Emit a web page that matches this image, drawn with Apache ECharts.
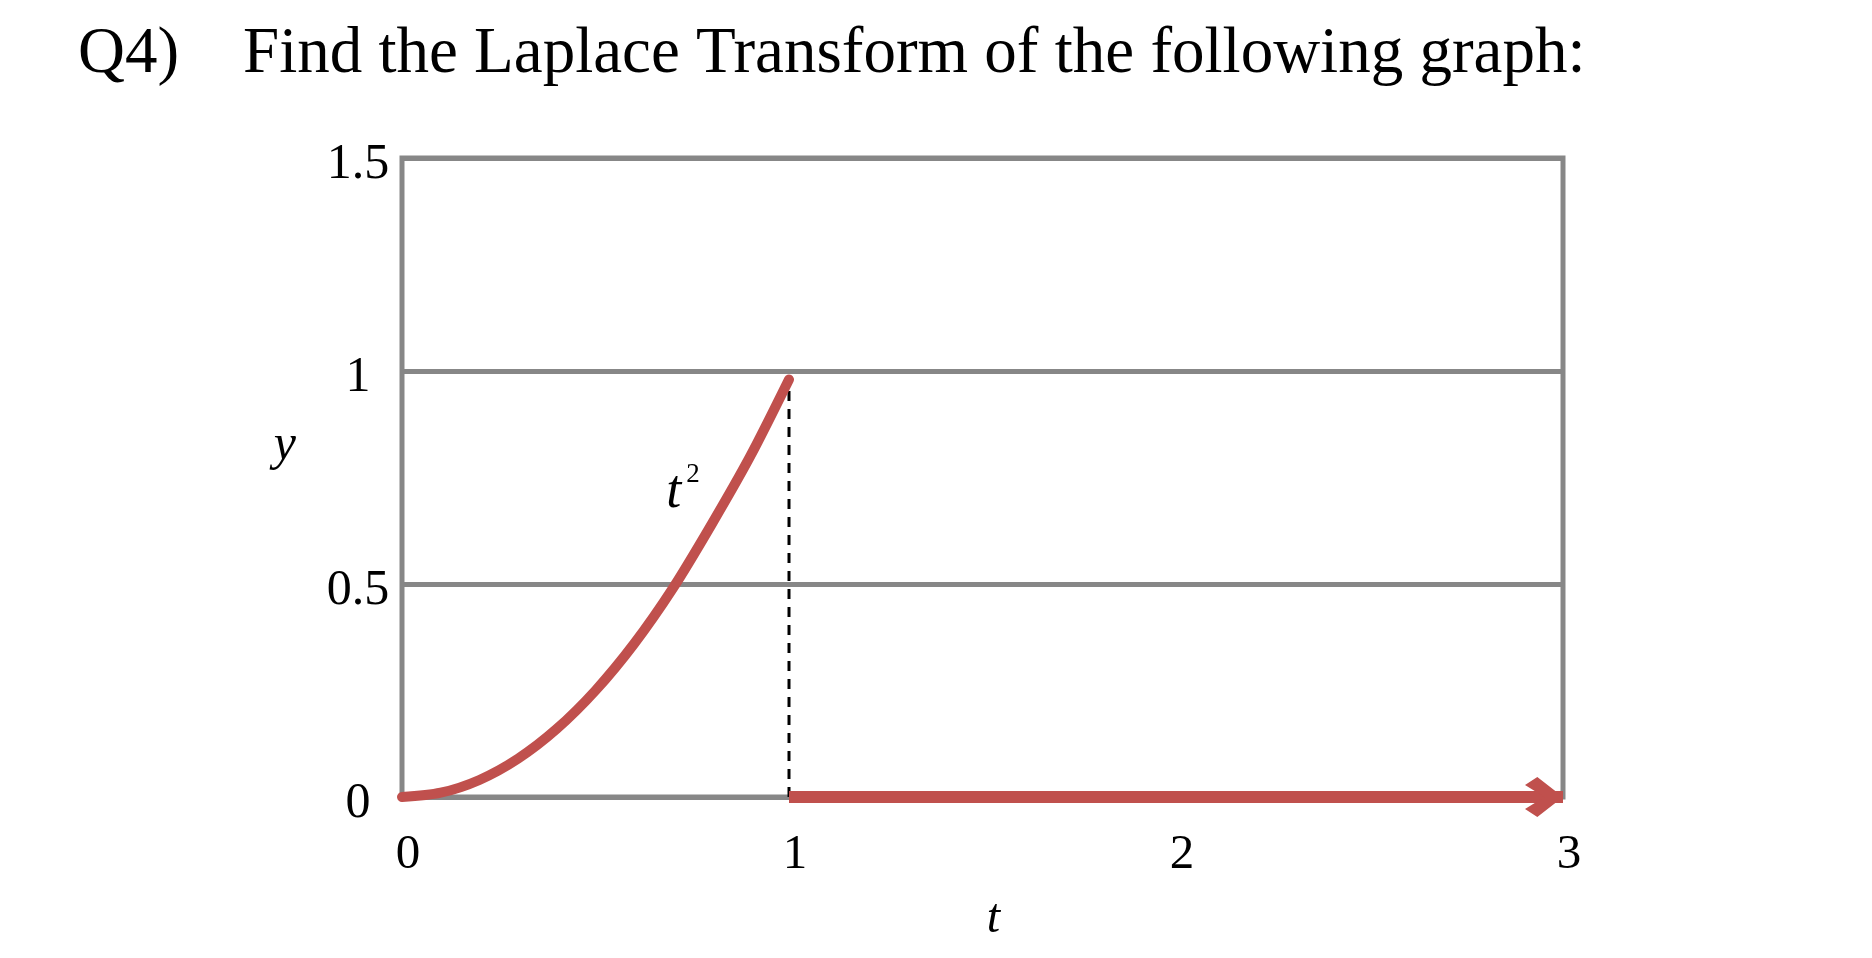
<!DOCTYPE html>
<html><head><meta charset="utf-8">
<script src="https://cdn.jsdelivr.net/npm/echarts@6/dist/echarts.min.js"></script>
<style>html,body{margin:0;padding:0;background:#fff}#c{width:1872px;height:958px}</style>
</head><body><div id="c"></div>
<script>
const titleNumber = 'Q4)';
const titleText = 'Find the Laplace Transform of the following graph:';
const xAxisName = 't';
const yAxisName = 'y';
const xRange = [0, 3];
const yRange = [0, 1.5];
const xStep = 1;
const yStep = 0.5;
// t^2 segment
const curveT = [0, 0.1, 0.2, 0.3, 0.4, 0.5, 0.6, 0.7, 0.8, 0.9, 1.0];
const curveY = [0, 0.01, 0.04, 0.09, 0.16, 0.25, 0.36, 0.49, 0.64, 0.80, 0.98];
// zero segment with arrow
const flatT = [1, 3];
const flatY = [0, 0];
// dashed drop line
const dashT = [1, 1];
const dashY = [0, 0.97];
// curve label position (data units)
const curveLabelAt = [0.726, 0.719];

const serif = 'Liberation Serif';
const red = '#C0504D';
const grey = '#878787';
const zip = (a, b) => a.map((v, i) => [v, b[i]]);
const chevron = 'path://M20,0 L40,25 L32,37 L20,18 L8,37 L0,25 Z';

const chart = echarts.init(document.getElementById('c'), null, {renderer: 'canvas'});
chart.setOption({
  animation: false,
  backgroundColor: '#fff',
  title: [
    {text: titleNumber, left: 78, top: 22, padding: 0,
     textStyle: {fontFamily: serif, fontWeight: 'normal', fontSize: 65, color: '#000'}},
    {text: titleText, left: 243, top: 22, padding: 0,
     textStyle: {fontFamily: serif, fontWeight: 'normal', fontSize: 65, color: '#000'}}
  ],
  grid: {left: 402, right: 309, top: 158, bottom: 161, show: true,
         borderColor: grey, borderWidth: 5, backgroundColor: 'transparent'},
  xAxis: {
    type: 'value', min: xRange[0], max: xRange[1], interval: xStep,
    name: xAxisName, nameLocation: 'middle', nameGap: 98,
    nameTextStyle: {fontFamily: serif, fontStyle: 'italic', fontSize: 48, color: '#000', padding: [0, 0, 0, 22]},
    axisLine: {show: false}, axisTick: {show: false}, splitLine: {show: false},
    axisLabel: {fontFamily: serif, fontSize: 49, color: '#000', margin: 34, padding: [0, 0, 0, 12]}
  },
  yAxis: {
    type: 'value', min: yRange[0], max: yRange[1], interval: yStep,
    name: yAxisName, nameLocation: 'middle', nameRotate: 0, nameGap: 106,
    nameTextStyle: {fontFamily: serif, fontStyle: 'italic', fontSize: 50, color: '#000',
                    verticalAlign: 'bottom', lineHeight: 64},
    axisLine: {show: false}, axisTick: {show: false},
    splitLine: {show: true, lineStyle: {color: grey, width: 5}},
    axisLabel: {
      margin: 44, align: 'center',
      formatter: v => '{a|' + v + '}',
      rich: {a: {fontFamily: serif, fontSize: 50, color: '#000', padding: [14, 0, 0, 0]}}
    }
  },
  series: [
    {
      type: 'line', data: zip(dashT, dashY), showSymbol: false, silent: true, z: 2,
      lineStyle: {color: '#000', width: 3, type: [10, 8]}
    },
    {
      type: 'line', data: zip(curveT, curveY), smooth: 0.3, showSymbol: false, silent: true, z: 3,
      lineStyle: {color: red, width: 10, cap: 'round'},
      markPoint: {
        silent: true, symbol: 'circle', symbolSize: 1, itemStyle: {color: 'rgba(0,0,0,0)'},
        label: {show: true, position: 'inside', formatter: '{t|t}{s|2}',
          rich: {
            t: {fontFamily: serif, fontStyle: 'italic', fontSize: 54, color: '#000', padding: [4, 0, 0, 0]},
            s: {fontFamily: serif, fontSize: 27, color: '#000', verticalAlign: 'top', padding: [0, 0, 0, 5]}
          }},
        data: [{coord: curveLabelAt}]
      }
    },
    {
      type: 'line', data: zip(flatT, flatY), showSymbol: false, silent: true, z: 4,
      lineStyle: {color: red, width: 12},
      markLine: {
        silent: true, animation: false,
        symbol: ['none', chevron], symbolSize: [40, 38], symbolOffset: [[0, 0], [0, 19]],
        label: {show: false},
        lineStyle: {color: red, width: 12, type: 'solid'},
        itemStyle: {color: red},
        data: [[{coord: [flatT[0], flatY[0]]}, {coord: [flatT[1], flatY[1]]}]]
      }
    }
  ]
});
</script></body></html>
